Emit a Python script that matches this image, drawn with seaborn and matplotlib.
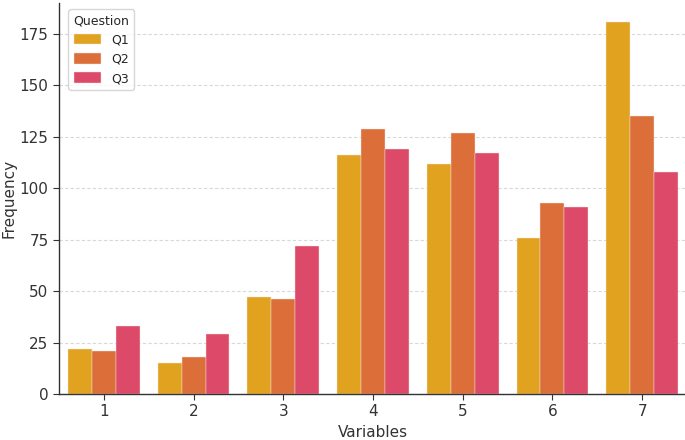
import seaborn as sns
import matplotlib.pyplot as plt
import pandas as pd

variables = [1, 2, 3, 4, 5, 6, 7]
q1 = [22, 15, 47, 116, 112, 76, 181]
q2 = [21, 18, 46, 129, 127, 93, 135]
q3 = [33, 29, 72, 119, 117, 91, 108]
questions = ["Q1", "Q2", "Q3"]
colors = ["#E0A21F", "#DC6F39", "#DD4968"]

df = pd.DataFrame({"Variables": variables * 3,
                   "Frequency": q1 + q2 + q3,
                   "Question": [q for q in questions for _ in variables]})

sns.set_style("whitegrid", {"grid.linestyle": (0, (3, 2)), "grid.color": "#d8d8d8"})
plt.rcParams["font.family"] = ["DejaVu Sans"]

fig = plt.figure(figsize=(6.85, 4.4), dpi=100)
ax = fig.add_axes([59 / 685, 46 / 440, 628 / 685, 391 / 440])
sns.barplot(data=df, x="Variables", y="Frequency", hue="Question",
            palette=colors, saturation=1, width=0.8, edgecolor="#f4e6e0",
            linewidth=0.3, ax=ax)

ax.set_ylim(0, 190)
ax.set_yticks([0, 25, 50, 75, 100, 125, 150, 175])
ax.xaxis.grid(False)
for s in ["top", "right"]:
    ax.spines[s].set_visible(False)
for s in ["left", "bottom"]:
    ax.spines[s].set_color("#333333")
    ax.spines[s].set_linewidth(1.0)
ax.tick_params(axis="both", labelsize=11, colors="#333333", length=4, width=0.8, left=True, bottom=True)
ax.set_xlabel("Variables", fontsize=11, color="#333333")
ax.set_ylabel("Frequency", fontsize=11, color="#333333", labelpad=2)
leg = ax.legend(title="Question", loc="upper left", fontsize=9, title_fontsize=9,
                frameon=True, bbox_to_anchor=(0.005, 1.0), handlelength=2.2, handleheight=0.9)
leg.get_frame().set_edgecolor("#cccccc")

fig.savefig("out.png", dpi=100)
